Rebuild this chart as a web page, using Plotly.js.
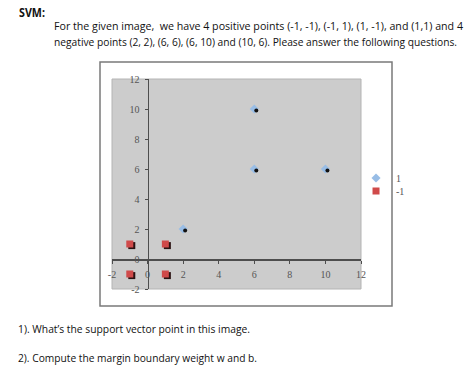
<!DOCTYPE html>
<html>
<head>
<meta charset="utf-8">
<script src="https://cdn.plot.ly/plotly-3.0.1.min.js"></script>
<style>
  html, body { margin: 0; padding: 0; background: #fff; }
  body { width: 474px; height: 382px; position: relative; overflow: hidden; }
  #chart { position: absolute; left: 0; top: 0; width: 474px; height: 382px; }
  .t { position: absolute; white-space: pre; font-family: "Open Sans", Lato, sans-serif; font-size: 11.5px;
       line-height: 16px; color: #111; transform-origin: 0 50%; z-index: 5; }
  .b { font-weight: bold; }
</style>
</head>
<body>
<div id="chart"></div>
<div class="t b" data-w="26" style="left:19px; top:5px;">SVM:</div>
<div class="t" data-w="409" style="left:54px; top:18px;">For the given image,  we have 4 positive points (-1, -1), (-1, 1), (1, -1), and (1,1) and 4</div>
<div class="t" data-w="403" style="left:54px; top:34px;">negative points (2, 2), (6, 6), (6, 10) and (10, 6). Please answer the following questions.</div>
<div class="t" data-w="232" style="left:18px; top:321px;">1). What’s the support vector point in this image.</div>
<div class="t" data-w="239" style="left:18px; top:350px;">2). Compute the margin boundary weight w and b.</div>
<script>
// ---- data ----
const posName = '1';
const negName = '-1';
const posX = [2, 6, 6, 10];
const posY = [2, 6, 10, 6];
const negX = [-1, -1, 1, 1];
const negY = [-1, 1, -1, 1];
const xTickVals = [-2, 0, 2, 4, 6, 8, 10, 12];
const xTickText = ['-2', '0', '2', '4', '6', '8', '10', '12'];
const yTickVals = [-2, 0, 2, 4, 6, 8, 10, 12];
const yTickText = ['-2', '0', '2', '4', '6', '8', '10', '12'];

// ---- layout constants ----
const xr = [-2, 12], yr = [-2, 12];
const plotW = 249, plotH = 210;
const shX = 2.0 * (xr[1] - xr[0]) / plotW;   // shadow shift in data units
const shY = 1.6 * (yr[1] - yr[0]) / plotH;
const axColor = '#4d4d4d';
const tickFont = {family: '"Liberation Serif", "DejaVu Serif", serif', size: 10, color: '#555'};

const traces = [
  {x: posX, y: posY, name: posName, type: 'scatter', mode: 'markers', xaxis: 'x', yaxis: 'y',
   legend: 'legend',
   marker: {symbol: 'diamond', size: 7, color: '#98bde6'}},
  {x: posX, y: posY, type: 'scatter', mode: 'markers', xaxis: 'x2', yaxis: 'y2', showlegend: false,
   marker: {symbol: 'circle', size: 4, color: '#111'}},
  {x: negX, y: negY, type: 'scatter', mode: 'markers', xaxis: 'x2', yaxis: 'y2', showlegend: false,
   marker: {symbol: 'square', size: 7, color: '#2b1212'}},
  {x: negX, y: negY, name: negName, type: 'scatter', mode: 'markers', xaxis: 'x3', yaxis: 'y3',
   legend: 'legend2',
   marker: {symbol: 'square', size: 7, color: '#d04a4a'}}
];

const zeroFracX = (0 - xr[0]) / (xr[1] - xr[0]);
const zeroFracY = (0 - yr[0]) / (yr[1] - yr[0]);
const hidden = {visible: false, showgrid: false, zeroline: false, fixedrange: true};

const layout = {
  width: 474, height: 382,
  margin: {l: 112, r: 113, t: 79, b: 93, pad: 0},
  paper_bgcolor: 'rgba(0,0,0,0)',
  plot_bgcolor: '#cccccc',
  showlegend: true,
  xaxis: {range: xr, anchor: 'free', position: zeroFracY, showline: true, linecolor: axColor, linewidth: 1.5,
          ticks: 'outside', ticklen: 3, tickcolor: axColor, tickwidth: 1,
          tickvals: xTickVals, ticktext: xTickText, tickfont: tickFont,
          showgrid: false, zeroline: false, ticklabelstandoff: 2},
  yaxis: {range: yr, anchor: 'free', position: zeroFracX, showline: true, linecolor: axColor, linewidth: 1.5,
          ticks: 'outside', ticklen: 3, tickcolor: axColor, tickwidth: 1,
          tickvals: yTickVals, ticktext: yTickText, tickfont: tickFont,
          showgrid: false, zeroline: false, ticklabelstandoff: 3},
  xaxis2: Object.assign({overlaying: 'x', anchor: 'y2', range: [xr[0] - shX, xr[1] - shX]}, hidden),
  yaxis2: Object.assign({overlaying: 'y', anchor: 'x2', range: [yr[0] + shY, yr[1] + shY]}, hidden),
  xaxis3: Object.assign({overlaying: 'x', anchor: 'y3', range: xr}, hidden),
  yaxis3: Object.assign({overlaying: 'y', anchor: 'x3', range: yr}, hidden),
  legend: {x: 0.98, y: (plotH - (178 - 79)) / plotH, xanchor: 'left', yanchor: 'middle',
           bgcolor: 'rgba(0,0,0,0)', borderwidth: 0, font: tickFont, itemwidth: 30},
  legend2: {x: 0.98, y: (plotH - (191 - 79)) / plotH, xanchor: 'left', yanchor: 'middle',
            bgcolor: 'rgba(0,0,0,0)', borderwidth: 0, font: tickFont, itemwidth: 30},
  shapes: [
    {type: 'rect', xref: 'paper', yref: 'paper', x0: (100 - 112) / plotW, x1: (392 - 112) / plotW,
     y0: (plotH - (306 - 79)) / plotH, y1: (plotH - (62 - 79)) / plotH,
     line: {color: '#7a7a7a', width: 1.5}, fillcolor: 'rgba(0,0,0,0)', layer: 'below'},
    {type: 'rect', xref: 'paper', yref: 'paper', x0: 0, x1: 1, y0: 0, y1: 1,
     line: {color: '#b4b4b4', width: 1}, fillcolor: 'rgba(0,0,0,0)', layer: 'below'}
  ]
};

Plotly.newPlot('chart', traces, layout, {staticPlot: true, displayModeBar: false}).then(function () {
  document.querySelectorAll('.t').forEach(function (el) {
    const target = parseFloat(el.getAttribute('data-w'));
    const w = el.getBoundingClientRect().width;
    if (w > 0) el.style.transform = 'scaleX(' + (target / w) + ')';
  });
});
</script>
</body>
</html>
